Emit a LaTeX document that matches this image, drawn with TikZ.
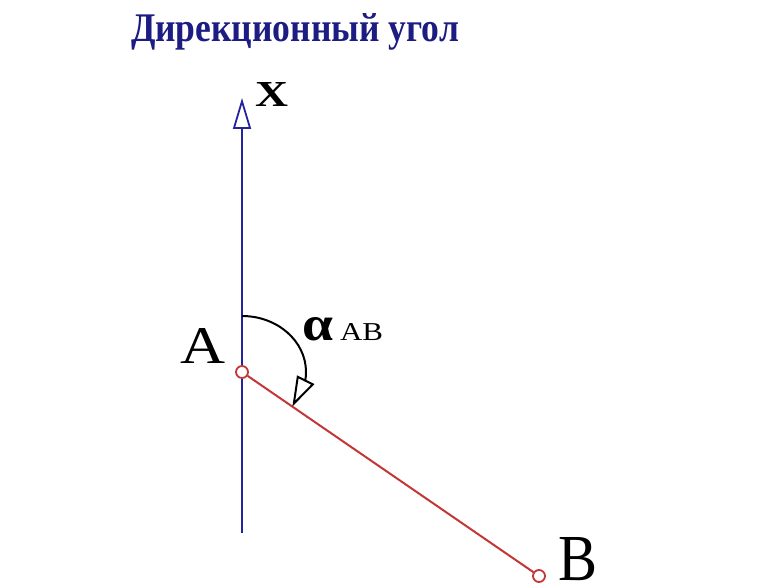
\documentclass[tikz,border=0pt]{standalone}
\usepackage{fontspec}
\setmainfont{Liberation Serif}
\usetikzlibrary{arrows.meta,calc,bending}
\definecolor{axisblue}{RGB}{35,35,160}
\definecolor{titleblue}{RGB}{28,28,130}
\definecolor{linered}{RGB}{195,55,55}
\begin{document}
\begin{tikzpicture}[x=1pt,y=1pt,
  lbl/.style={anchor=base west, inner sep=0pt, outer sep=0pt},
  pt/.style={circle, draw=linered, line width=1.8pt, fill=white, minimum size=12pt, inner sep=0pt},
  axis/.style={draw=axisblue, line width=2.4pt, -{Triangle[open, length=31pt, width=18pt, line width=1.8pt]}},
  seg/.style={draw=linered, line width=2pt},
  anglearc/.style={draw=black, line width=2pt, -{Triangle[open, length=30pt, width=19pt, flex]}}]
\useasboundingbox[fill=white] (0,0) rectangle (768,-588);
\node[lbl, text=titleblue] (title) at (131,-42) {\resizebox{328pt}{28pt}{\bfseries Дирекционный угол}};
\coordinate (xbot) at (242,-533);
\coordinate (xtop) at (242,-98);
\draw[axis] (xbot) -- (xtop);
\node[pt] (A) at (242,-372) {};
\node[pt] (B) at (539,-576) {};
\draw[seg] (A) -- (B);
\coordinate (arcstart) at ($(A)+(0,56)$);
\draw[anglearc] (arcstart) arc[start angle=90, end angle=-38.1, x radius=64, y radius=56];
\node[lbl] (xlab) at (255,-107) {\resizebox{33pt}{24pt}{\bfseries X}};
\node[lbl] (Alab) at (180,-363) {\resizebox{45pt}{35pt}{A}};
\node[lbl] (Blab) at (558,-580) {\resizebox{39pt}{43pt}{B}};
\node[lbl] (alpha) at (302,-340) {\resizebox{31pt}{23pt}{\bfseries α}};
\node[lbl] (ab) at (340,-340) {\resizebox{43pt}{17pt}{AB}};
\end{tikzpicture}
\end{document}
